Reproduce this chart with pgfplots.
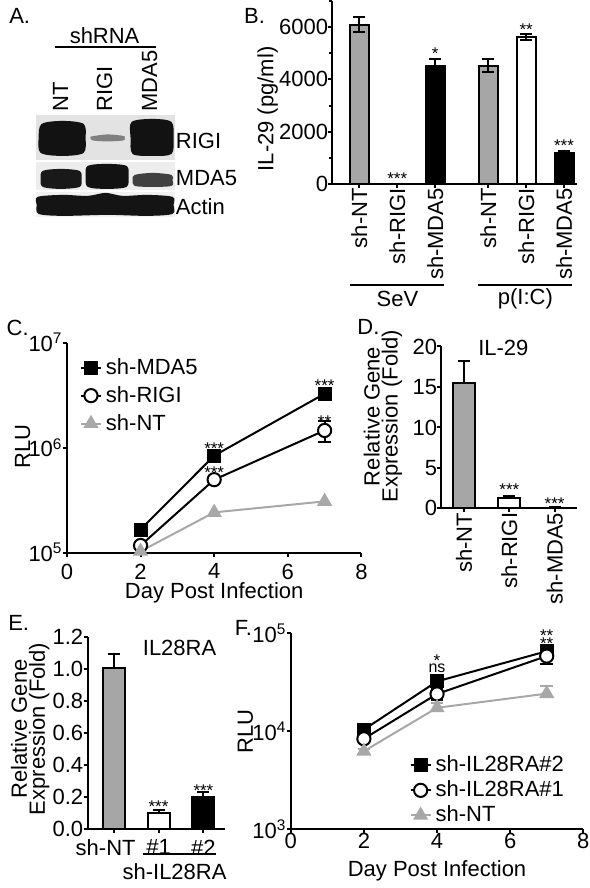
\documentclass[border=0pt]{standalone}
\usepackage{fontspec}
\setmainfont{Liberation Sans}
\usepackage{pgfplots}
\pgfplotsset{compat=1.18}
\definecolor{barg}{HTML}{A6A6A6}
\definecolor{lineg}{HTML}{A8A8A8}
\newcommand{\fnt}{\fontsize{11}{12}\selectfont}
\newcommand{\sfnt}{\fontsize{8.5}{9}\selectfont}
\newcommand{\st}[1]{\raisebox{-0.44em}[0.28em][0pt]{#1}}
\tikzset{stars/.style={font=\sfnt, anchor=base, inner sep=0pt, yshift=3.74pt}}
\pgfplotsset{
  gp/.style={
    scale only axis, anchor=south west,
    axis lines*=left,
    axis line style={line width=1pt},
    every tick/.style={black, line width=1pt},
    tick align=outside,
    major tick length=2pt,
    minor tick length=1.5pt,
    tick label style={font=\fnt},
    yticklabel style={inner sep=0pt},
    label style={font=\fnt},
    /pgf/number format/assume math mode=true,
    /pgf/number format/1000 sep={},
    clip=false,
  },
  barp/.style={ybar, bar shift=0pt, draw=black, line width=1pt,
    error bars/y dir=both, error bars/y explicit,
    error bars/error bar style={line width=1pt, black},
    error bars/error mark options={rotate=90, mark size=3pt, line width=1pt, black}},
  errs/.style={error bars/y dir=both, error bars/y explicit,
    error bars/error bar style={line width=1pt},
    error bars/error mark options={rotate=90, mark size=3.2pt, line width=1pt}},
  leg/.style={legend cell align=left,
    legend image code/.code={\draw[mark repeat=2, mark phase=2] plot coordinates {(0pt,0pt)(5pt,0pt)(10pt,0pt)};}},
}
\begin{document}
\begin{tikzpicture}
\begin{scope}[x=0.5pt,y=-0.5pt]
\path[use as bounding box] (0,0) rectangle (582,888);
\coordinate (Ao) at (28,217);
\coordinate (Bo) at (325,184);
\coordinate (Co) at (59.3,553);
\coordinate (Do) at (434,508.7);
\coordinate (Eo) at (80,829.3);
\coordinate (Fo) at (283.3,829.3);
\end{scope}

% ---------------- Panel A (blot) ----------------
\begin{axis}[at={(Ao)}, anchor=south west, scale only axis, width=69.5pt, height=51pt,
  xmin=28, xmax=167, ymin=115, ymax=217, y dir=reverse, hide axis, clip=false]
\addplot[fill=black!11, draw=none] coordinates {(28,115)(167,115)(167,160)(28,160)} -- cycle;
\addplot[fill=black!7, draw=none] coordinates {(28,162)(167,162)(167,190)(28,190)} -- cycle;
\addplot[fill=black!6, draw=none] coordinates {(28,192)(167,192)(167,217)(28,217)} -- cycle;
% RIGI strip
\addplot[smooth cycle, fill=black!93, draw=none] coordinates {(34,124)(55,121)(76,124)(78,138)(76,153)(55,156)(33,153)(31,138)};
\addplot[smooth cycle, fill=black!50, draw=none] coordinates {(84,136.5)(100,134.5)(116,136)(117,138)(116,140.5)(100,141.5)(85,140.5)(83,138)};
\addplot[smooth cycle, fill=black!93, draw=none] coordinates {(124,122)(145,119)(164,122)(166,138)(164,154)(145,156)(125,154)(123,138)};
% MDA5 strip
\addplot[smooth cycle, fill=black!90, draw=none] coordinates {(35,171)(53,169)(72,171)(74,179)(72,187)(53,189)(35,187)(33,179)};
\addplot[smooth cycle, fill=black!93, draw=none] coordinates {(80,166)(99,164)(119,166)(121,176)(119,187)(99,189)(80,187)(78,176)};
\addplot[smooth cycle, fill=black!75, draw=none] coordinates {(127,175)(145,173)(164,175)(165,180)(164,186)(145,187)(127,186)(125,180)};
% Actin strip
\addplot[smooth cycle, fill=black!92, draw=none] coordinates {(30,197)(55,195)(80,196)(98,193)(115,196)(140,195)(165,197)(166,205)(165,214)(140,216)(100,215)(55,216)(31,214)(29,205)};
\end{axis}

% ---------------- Panel B ----------------
\begin{axis}[gp, at={(Bo)}, width=122.5pt, height=91.5pt,
  xmin=0.29, xmax=6.75, ymin=0, ymax=7000,
  ytick={0,2000,4000,6000}, minor ytick={1000,3000,5000,7000},
  xtick={1,2,3,4.4,5.4,6.4},
  xticklabels={sh-NT,sh-RIGI,sh-MDA5,sh-NT,sh-RIGI,sh-MDA5},
  x tick label style={rotate=90, anchor=east, inner sep=0pt},
  ylabel={IL-29 (pg/ml)},
  ylabel style={at={(axis description cs:-0.265,0.41)}, anchor=center}]
\addplot[barp, bar width=9.5pt, fill=barg] coordinates {(1,6100) +- (0,280) (4.4,4530) +- (0,240)};
\addplot[barp, bar width=9.5pt, fill=white] coordinates {(2,0) +- (0,0) (5.4,5620) +- (0,100)};
\addplot[barp, bar width=9.5pt, fill=black] coordinates {(3,4500) +- (0,290) (6.4,1190) +- (0,70)};
\node[stars] at (axis cs:2,-30) {\st{***}};
\node[stars] at (axis cs:3,4776) {\st{*}};
\node[stars] at (axis cs:5.4,5667) {\st{**}};
\node[stars] at (axis cs:6.4,1243) {\st{***}};
\end{axis}

% ---------------- Panel C ----------------
\begin{axis}[gp, leg, at={(Co)}, width=147.35pt, height=105pt,
  xmin=0, xmax=8, ymode=log, ymin=1e5, ymax=1e7,
  xtick={0,2,4,6,8}, ytick={1e5,1e6,1e7}, yminorticks=false,
  yticklabels={10\textsuperscript{5},10\textsuperscript{6},10\textsuperscript{7}},
  xlabel={Day Post Infection}, ylabel={RLU},
  xlabel style={at={(axis description cs:0.5,-0.192)}, anchor=center},
  ylabel style={at={(axis description cs:-0.150,0.505)}, anchor=center},
  legend style={at={(axis description cs:0.043,0.933)}, anchor=north west, draw=none, fill=none,
    inner sep=0pt, row sep=3.5pt, font=\fnt, nodes={inner sep=0.5pt}, /tikz/column sep=1.5pt}]
\addplot[black, line width=1pt, mark=square*, mark size=3pt, mark options={fill=black}]
  coordinates {(2,1.66e5)(4,8.4e5)(7,3.27e6)};
\addlegendentry{sh-MDA5}
\addplot[black, line width=1pt, mark=*, mark size=3.3pt, mark options={fill=white}, errs]
  coordinates {(2,1.17e5) +- (0,0) (4,4.96e5) +- (0,0) (7,1.46e6) +- (0,0.32e6)};
\addlegendentry{sh-RIGI}
\addplot[lineg, line width=1pt, mark=triangle*, mark size=3.4pt, mark options={fill=lineg, draw=lineg}]
  coordinates {(2,1.03e5)(4,2.42e5)(7,3.08e5)};
\addlegendentry{sh-NT}
\node[stars] at (axis cs:7,3.45e6) {\st{***}};
\node[stars] at (axis cs:7,1.55e6) {\st{**}};
\node[stars] at (axis cs:4,8.6e5) {\st{***}};
\node[stars] at (axis cs:4,5.09e5) {\st{***}};
\end{axis}

% ---------------- Panel D ----------------
\begin{axis}[gp, at={(Do)}, width=68pt, height=81pt,
  xmin=0.5, xmax=3.5, ymin=0, ymax=20,
  ytick={0,5,10,15,20}, xtick={1,2,3},
  xticklabels={sh-NT,sh-RIGI,sh-MDA5},
  x tick label style={rotate=90, anchor=east, inner sep=0pt},
  ylabel={Relative Gene\\Expression (Fold)},
  ylabel style={align=center, font=\fontsize{11}{9}\selectfont, at={(axis description cs:-0.43,0.568)}, anchor=center}]
\addplot[barp, bar width=11pt, fill=barg, error bars/y dir=plus] coordinates {(1,15.5) +- (0,2.65)};
\addplot[barp, bar width=11pt, fill=white, error bars/y dir=plus] coordinates {(2,1.3) +- (0,0.2)};
\addplot[barp, bar width=11pt, fill=black, error bars/y dir=plus] coordinates {(3,0.1) +- (0,0.05)};
\node[stars] at (axis cs:2,1.59) {\st{***}};
\node[stars] at (axis cs:3,-0.1) {\st{***}};
\end{axis}

% ---------------- Panel E ----------------
\begin{axis}[gp, at={(Eo)}, width=68.5pt, height=96pt,
  xmin=0.42, xmax=3.47, ymin=0, ymax=1.2,
  ytick={0,0.2,0.4,0.6,0.8,1.0,1.2},
  yticklabel style={/pgf/number format/.cd, fixed, fixed zerofill, precision=1},
  xtick={1,2,3}, xticklabels={sh-NT\hspace*{8pt},\#1,\#2},
  ylabel={Relative Gene\\Expression (Fold)},
  ylabel style={align=center, font=\fontsize{11}{9}\selectfont, at={(axis description cs:-0.42,0.52)}, anchor=center}]
\addplot[barp, bar width=11pt, fill=barg, error bars/y dir=plus] coordinates {(1,1.005) +- (0,0.09)};
\addplot[barp, bar width=11pt, fill=white, error bars/y dir=plus] coordinates {(2,0.096) +- (0,0.02)};
\addplot[barp, bar width=11pt, fill=black, error bars/y dir=plus] coordinates {(3,0.197) +- (0,0.032)};
\node[stars] at (axis cs:2,0.101) {\st{***}};
\node[stars] at (axis cs:3,0.201) {\st{***}};
\end{axis}

% ---------------- Panel F ----------------
\begin{axis}[gp, leg, at={(Fo)}, width=146.35pt, height=98pt,
  xmin=0, xmax=8, ymode=log, ymin=1e3, ymax=1e5,
  xtick={0,2,4,6,8}, ytick={1e3,1e4,1e5}, yminorticks=false,
  yticklabels={10\textsuperscript{3},10\textsuperscript{4},10\textsuperscript{5}},
  xticklabel style={inner sep=0pt},
  xlabel={Day Post Infection}, ylabel={RLU},
  xlabel style={at={(axis description cs:0.5,-0.216)}, anchor=center},
  ylabel style={at={(axis description cs:-0.155,0.496)}, anchor=center},
  legend style={at={(axis description cs:0.405,0.379)}, anchor=north west, draw=none, fill=none,
    inner sep=0pt, row sep=2pt, font=\fnt, nodes={inner sep=0.5pt}, /tikz/column sep=1.5pt}]
\addplot[black, line width=1pt, mark=square*, mark size=3pt, mark options={fill=black}, errs]
  coordinates {(2,1.03e4) +- (0,0.05e4) (4,3.2e4) +- (0,0.4e4) (7,6.5e4) +- (0,0.8e4)};
\addlegendentry{sh-IL28RA\#2}
\addplot[black, line width=1pt, mark=*, mark size=3.3pt, mark options={fill=white}, errs]
  coordinates {(2,8.3e3) +- (0,0.04e4) (4,2.38e4) +- (0,0.3e4) (7,5.8e4) +- (0,0.94e4)};
\addlegendentry{sh-IL28RA\#1}
\addplot[lineg, line width=1pt, mark=triangle*, mark size=3.4pt, mark options={fill=lineg, draw=lineg}, errs, error bars/y dir=plus]
  coordinates {(2,6.2e3) +- (0,0.03e4) (4,1.72e4) +- (0,0.2e4) (7,2.4e4) +- (0,0.5e4)};
\addlegendentry{sh-NT}
\node[stars] at (axis cs:4,4.55e4) {\st{*}};
\node[font=\fontsize{8}{9}\selectfont, anchor=base, inner sep=0pt] at (axis cs:4,3.9e4) {ns};
\node[stars] at (axis cs:7,8.1e4) {\st{**}};
\node[stars] at (axis cs:7,6.8e4) {\st{**}};
\end{axis}

% ---------------- Texts ----------------
\begin{scope}[x=0.5pt,y=-0.5pt, every node/.style={font=\fnt}]
\node at (12,16) {A.};
\node at (97,36) {shRNA};
\draw[line width=1pt] (47,47) -- (148,47);
\node[rotate=90, anchor=west, inner sep=0pt] at (53,112) {NT};
\node[rotate=90, anchor=west, inner sep=0pt] at (97,112) {RIGI};
\node[rotate=90, anchor=west, inner sep=0pt] at (142,112) {MDA5};
\node[anchor=west, inner sep=0pt] at (168,141) {RIGI};
\node[anchor=west, inner sep=0pt] at (168,178) {MDA5};
\node[anchor=west, inner sep=0pt] at (168,207) {Actin};
\node at (247,16) {B.};
\draw[line width=1pt] (343,285) -- (437,285);
\draw[line width=1pt] (471,285) -- (565,285);
\node at (390,299.5) {SeV};
\node at (518,299) {p(I:C)};
\node at (10,328) {C.};
\node at (361,327) {D.};
\node at (496,348) {IL-29};
\node at (11,623) {E.};
\node at (172,648) {IL28RA};
\draw[line width=1pt] (135,855) -- (208,855);
\node at (167,872) {sh-IL28RA};
\node at (236,628) {F.};
\end{scope}
\end{tikzpicture}
\end{document}
